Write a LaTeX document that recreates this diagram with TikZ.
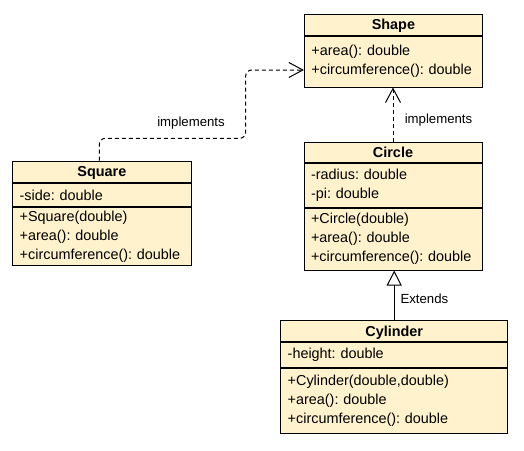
\documentclass[tikz,border=0pt]{standalone}
\usepackage{fontspec}
\setmainfont{Liberation Sans}
\frenchspacing
\usetikzlibrary{positioning,arrows.meta}
\definecolor{classfill}{HTML}{FFF2CC}
\tikzstyle{classhead} = [rectangle, draw, fill=classfill, inner sep=0pt, text height=10.3pt, text depth=0pt, text centered, font=\fontsize{14.4}{19}\selectfont\bfseries]
\tikzstyle{classpart} = [rectangle, draw, fill=classfill, inner xsep=7pt, inner ysep=0pt, align=left, font=\fontsize{14.4}{19}\selectfont]
\tikzstyle{realize} = [draw, dash pattern=on 4pt off 3pt, -{Straight Barb[length=14pt,width=15pt]}]
\tikzstyle{inherit} = [draw, -{Triangle[open,length=15pt,width=15pt,fill=white]}]
\tikzstyle{tag} = [font=\fontsize{13.2}{16}\selectfont]

\begin{document}
\begin{tikzpicture}[x=1pt, y=-1pt, line width=1pt]
		\useasboundingbox (0,0) rectangle (524,450);
		
		% interface
		\node [classhead, minimum width=178pt, minimum height=20.5pt] (shapeHead) at (393.4,24.75) {Shape};
		\node [classpart, text width=164pt, minimum height=51pt, below=0pt of shapeHead] (shapeOps) {+area(): double\\+circumference(): double};
		
		% classes
		\node [classhead, minimum width=178.3pt, minimum height=21.3pt] (squareHead) at (101.85,171.65) {Square};
		\node [classpart, text width=164.3pt, minimum height=23.4pt, below=0pt of squareHead] (squareAttr) {-side: double};
		\node [classpart, text width=164.3pt, minimum height=57.6pt, below=0pt of squareAttr] (squareOps) {+Square(double)\\+area(): double\\+circumference(): double};
		
		\node [classhead, minimum width=178pt, minimum height=20.4pt] (circleHead) at (393,152.5) {Circle};
		\node [classpart, text width=164pt, minimum height=43.6pt, below=0pt of circleHead] (circleAttr) {-radius: double\\-pi: double};
		\node [classpart, text width=164pt, minimum height=61.7pt, below=0pt of circleAttr] (circleOps) {+Circle(double)\\+area(): double\\+circumference(): double};
		
		\node [classhead, minimum width=227pt, minimum height=20.6pt] (cylHead) at (394.2,331) {Cylinder};
		\node [classpart, text width=213pt, minimum height=25.4pt, below=0pt of cylHead] (cylAttr) {-height: double};
		\node [classpart, text width=213pt, minimum height=64.3pt, below=0pt of cylAttr] (cylOps) {+Cylinder(double,double)\\+area(): double\\+circumference(): double};
		
		% relations
		\coordinate (bendA) at (245.7,138.3);
		\path [realize, rounded corners=6pt] ([xshift=-2.5pt]squareHead.north) |- (bendA) |- ([yshift=-8.5pt]shapeOps.west);
		\node [tag] (implA) at (191,122.7) {implements};
		
		\path [realize] (circleHead.north) -- (circleHead.north |- shapeOps.south);
		\node [tag] (implB) at (438.5,120) {implements};
		
		\path [inherit] (cylHead.north) -- (cylHead.north |- circleOps.south);
		\node [tag, anchor=west, inner xsep=0pt] (ext) at (400,299) {Extends};
\end{tikzpicture}
\end{document}
